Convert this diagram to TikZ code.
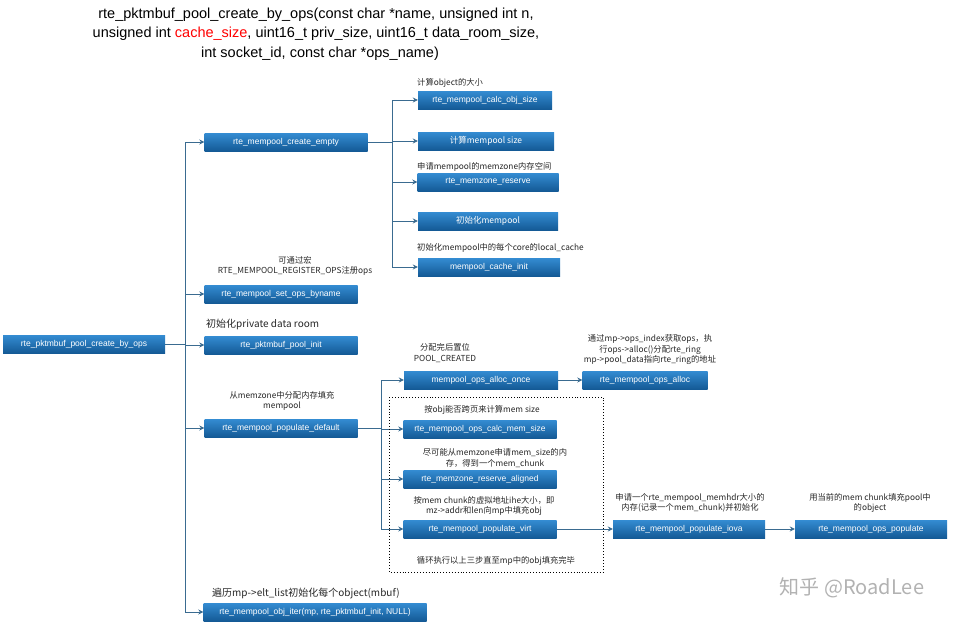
\documentclass[tikz,border=0pt]{standalone}
\usepackage{fontspec}
\setmainfont{Liberation Sans}
\newfontfamily\cjk{Noto Sans CJK SC}
\usetikzlibrary{arrows.meta}
\definecolor{lc}{HTML}{3A6B90}
\tikzset{
 bx/.style={draw=none,shading angle=0, text=white,font=\fontsize{8.5}{9}\selectfont,minimum height=18pt,inner sep=1pt,
   top color={rgb,255:red,52;green,140;blue,210},bottom color={rgb,255:red,20;green,90;blue,150}},
 lb/.style={font=\cjk\fontsize{8.3}{10.5}\selectfont,text=black!85,align=center,inner sep=0pt},
 ar/.style={draw=lc,line width=0.8pt,-{Stealth[length=5pt,width=5pt]}},
 ln/.style={draw=lc,line width=0.8pt}
}
\begin{document}
\begin{tikzpicture}[x=1pt,y=-1pt]
\useasboundingbox (0,0) rectangle (957,627);
% title
\node[font=\fontsize{14.5}{19.5}\selectfont,align=center,inner sep=0pt] (title) at (316,34)
{rte\_pktmbuf\_pool\_create\_by\_ops(const char *name, unsigned int n,\\
unsigned int \textcolor{red}{cache\_size}, uint16\_t priv\_size, uint16\_t data\_room\_size,\\
\hspace*{8pt}int socket\_id, const char *ops\_name)};
% main nodes
\node[bx,minimum width=162pt] (main) at (84,344) {rte\_pktmbuf\_pool\_create\_by\_ops};
\node[bx,minimum width=163pt] (ce) at (286,142) {rte\_mempool\_create\_empty};
\node[bx,minimum width=153pt] (so) at (281,294) {rte\_mempool\_set\_ops\_byname};
\node[bx,minimum width=153pt] (pi) at (281,345) {rte\_pktmbuf\_pool\_init};
\node[bx,minimum width=153pt] (pd) at (281,428) {rte\_mempool\_populate\_default};
\node[bx,minimum width=223pt] (oi) at (315,612) {rte\_mempool\_obj\_iter(mp, rte\_pktmbuf\_init, NULL)};
\coordinate (t1) at (185,142);
\coordinate (t2) at (185,612);
\draw[ln] (main.east) -- (185,344);
\draw[ln] (t1) -- (t2);
\foreach \n in {ce,so,pi,pd,oi} \draw[ar] (185,0 |- \n.west) -- (\n.west);
% labels left column
\node[lb] (l1) at (295,266) {可通过宏\\RTE\_MEMPOOL\_REGISTER\_OPS注册ops};
\node[lb,anchor=west,font=\cjk\fontsize{10}{11}\selectfont] (l2) at (206,324) {初始化private data room};
\node[lb] (l3) at (282,401) {从memzone中分配内存填充\\mempool};
\node[lb,anchor=west,font=\cjk\fontsize{10}{11}\selectfont] (l4) at (212,593) {遍历mp->elt\_list初始化每个object(mbuf)};
% create_empty children
\node[bx,minimum width=134pt] (c1) at (485,100) {rte\_mempool\_calc\_obj\_size};
\node[bx,minimum width=136pt] (c2) at (486,141) {\cjk 计算mempool size};
\node[bx,minimum width=141pt] (c3) at (488,182) {rte\_memzone\_reserve};
\node[bx,minimum width=140pt] (c4) at (488,221) {\cjk 初始化mempool};
\node[bx,minimum width=142pt] (c5) at (489,267) {mempool\_cache\_init};
\draw[ln] (ce.east) -- (392,142);
\draw[ln] (392,100) -- (392,267);
\foreach \n in {c1,c2,c3,c4,c5} \draw[ar] (392,0 |- \n.west) -- (\n.west);
\node[lb,anchor=west] (k1) at (417,83) {计算object的大小};
\node[lb,anchor=west] (k3) at (417,167) {申请mempool的memzone内存空间};
\node[lb,anchor=west] (k5) at (417,248) {初始化mempool中的每个core的local\_cache};
% populate_default children
\node[bx,minimum width=154pt] (p1) at (481,380) {mempool\_ops\_alloc\_once};
\node[bx,minimum width=125pt] (p1b) at (645,380) {rte\_mempool\_ops\_alloc};
\node[bx,minimum width=153pt] (p2) at (480,429) {rte\_mempool\_ops\_calc\_mem\_size};
\node[bx,minimum width=153pt] (p3) at (480,479) {rte\_memzone\_reserve\_aligned};
\node[bx,minimum width=153pt] (p4) at (480,529) {rte\_mempool\_populate\_virt};
\node[bx,minimum width=152pt] (p5) at (689,529) {rte\_mempool\_populate\_iova};
\node[bx,minimum width=152pt] (p6) at (871,529) {rte\_mempool\_ops\_populate};
\draw[ln] (pd.east) -- (381,428);
\draw[ln] (381,380) -- (381,529);
\foreach \n in {p1,p2,p3,p4} \draw[ar] (381,0 |- \n.west) -- (\n.west);
\draw[ar] (p1) -- (p1b);
\draw[ar] (p4) -- (p5);
\draw[ar] (p5) -- (p6);
\draw[line width=0.9pt,dotted] (389,397) rectangle (603,572);
\node[lb] (m1) at (445,353) {分配完后置位\\POOL\_CREATED};
\node[lb] (m1b) at (650,350) {通过mp->ops\_index获取ops，执\\行ops->alloc()分配rte\_ring\\mp->pool\_data指向rte\_ring的地址};
\node[lb] (m2) at (482,410) {按obj能否跨页来计算mem size};
\node[lb] (m3) at (495,458) {尽可能从memzone申请mem\_size的内\\存，得到一个mem\_chunk};
\node[lb] (m4) at (484,506) {按mem chunk的虚拟地址ihe大小，即\\mz->addr和len向mp中填充obj};
\node[lb] (m5) at (690,503) {申请一个rte\_mempool\_memhdr大小的\\内存(记录一个mem\_chunk)并初始化};
\node[lb] (m6) at (870,503) {用当前的mem chunk填充pool中\\的object};
\node[lb] (m7) at (496,561) {循环执行以上三步直至mp中的obj填充完毕};
\node[font=\cjk\fontsize{20}{22}\selectfont,text=black!30,inner sep=0pt] (wm) at (852,588) {知乎 @RoadLee};
\end{tikzpicture}
\end{document}
